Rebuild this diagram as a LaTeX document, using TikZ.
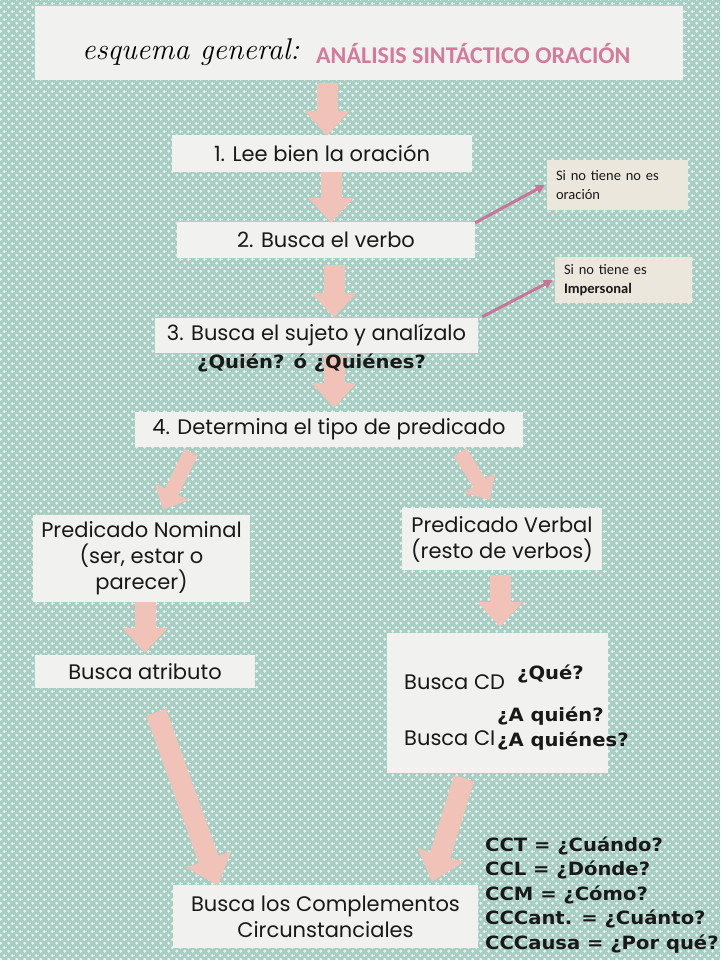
\documentclass[tikz,border=0pt]{standalone}
\usepackage{fontspec}
\usetikzlibrary{arrows.meta,patterns.meta,calc}
\newfontfamily\gothic{Poppins}
\newfontfamily\calib{Carlito}
\newfontfamily\verd{DejaVu Sans}[FakeStretch=1.07]
\definecolor{bgteal}{RGB}{168,205,195}
\definecolor{bgdot}{RGB}{228,242,237}
\definecolor{boxfill}{RGB}{241,241,239}
\definecolor{notefill}{RGB}{236,231,221}
\definecolor{blkcol}{RGB}{240,194,184}
\definecolor{titlepink}{RGB}{212,122,154}
\definecolor{thinpink}{RGB}{200,118,152}
\definecolor{txt}{RGB}{25,25,25}
\tikzdeclarepattern{
  name=bgdots, type=colored,
  bottom left={(0pt,0pt)}, top right={(8pt,8pt)}, tile size={(8pt,8pt)},
  code={\fill[bgdot] (2pt,2pt) circle (1.8pt); \fill[bgdot] (6pt,6pt) circle (1.8pt);}
}
\begin{document}
\begin{tikzpicture}[x=1pt,y=-1pt,
  box/.style={fill=boxfill, inner sep=0pt, text=txt, align=center,
    font=\gothic\fontsize{21}{26}\selectfont},
  note/.style={fill=notefill, inner ysep=0pt, inner xsep=9pt, align=left, text=txt,
    font=\calib\fontsize{14.5}{19}\selectfont},
  gtext/.style={inner sep=0pt, text=txt, font=\gothic\fontsize{21}{26}\selectfont},
  vtext/.style={inner sep=0pt, text=txt, font=\verd\bfseries\fontsize{18.3}{24}\selectfont},
  blk/.style={draw=blkcol, line width=21pt, -{Triangle[width=44pt,length=25pt]}},
  blks/.style={draw=blkcol, line width=15pt, -{Triangle[width=36pt,length=20pt]}},
  blkb/.style={draw=blkcol, line width=21pt, -{Triangle[width=46pt,length=28pt]}},
  thinarr/.style={draw=thinpink, line width=3pt, -{Triangle[width=9pt,length=9pt]}}
]
\useasboundingbox (0,0) rectangle (720,960);
\fill[bgteal] (0,0) rectangle (720,960);
\fill[pattern=bgdots] (0,0) rectangle (720,960);

% header
\node[fill=boxfill, minimum width=648, minimum height=74, inner sep=0pt] (h) at (359,43) {};
\node[anchor=base west, inner sep=0pt, text=black, font=\itshape\fontsize{30}{30}\selectfont] (hs) at (82,60) {esquema general:};
\node[anchor=base west, inner sep=0pt, text=titlepink, font=\calib\bfseries\fontsize{24}{26}\selectfont] (ht) at (316,64) {ANÁLISIS SINTÁCTICO ORACIÓN};

% main boxes
\node[box, minimum width=300, minimum height=37] (b1) at (322,153.5) {1. Lee bien la oración};
\node[box, minimum width=298, minimum height=36] (b2) at (326,240) {2. Busca el verbo};
\node[box, minimum width=323, minimum height=35] (b3) at (316.5,335.5) {3. Busca el sujeto y analízalo};
\node[box, minimum width=388, minimum height=35] (b4) at (329,429.5) {4. Determina el tipo de predicado};
\node[box, minimum width=217, minimum height=87] (pn) at (141.5,558.5) {Predicado Nominal\\(ser, estar o\\parecer)};
\node[box, minimum width=200, minimum height=62] (pv) at (502,539) {Predicado Verbal\\(resto de verbos)};
\node[box, minimum width=220, minimum height=33] (at) at (145,671.5) {Busca atributo};
\node[box, minimum width=221, minimum height=140] (cd) at (497.5,703) {};
\node[box, minimum width=305, minimum height=63] (cc) at (325.5,916.5) {Busca los Complementos\\Circunstanciales};

% notes
\node[note, minimum width=141, minimum height=50, text width=123] (n1) at (617.5,185) {Si no tiene no es\\oración};
\node[note, minimum width=137, minimum height=46, text width=119] (n2) at (623.5,280) {Si no tiene es\\\textbf{Impersonal}};

% block arrows
\draw[blk] ($(h.south -| b1.north)+(5,3)$) -- ($(b1.north)+(5,1)$);
\draw[blk] ($(b1.south)+(9,0)$) -- ($(b2.north)+(5,1)$);
\draw[blk] ($(b2.south)+(8,7)$) -- ($(b3.north)+(17.5,0)$);
\draw[blk] ($(b3.south)+(17.5,2)$) -- ($(b4.north)+(5,-4)$);
\draw[blks] ($(b4.south)+(-138,5)$) -- ($(pn.north)+(21.5,-5)$);
\draw[blks] ($(b4.south)+(131,5)$) -- ($(pv.north)+(-12,-8)$);
\draw[blk] ($(pn.south)+(3.5,0)$) -- ($(at.north)+(0,-2)$);
\draw[blk] ($(pv.south)+(-2,5)$) -- ($(cd.north)+(2.5,-6)$);
\draw[blkb] ($(at.south)+(11,24)$) -- ($(cc.north)+(-107.5,1)$);
\draw[blkb] ($(cd.south)+(-33.5,5)$) -- ($(cc.north)+(106.5,-3)$);

% thin arrows to notes
\draw[thinarr] ($(b2.north east)+(0,1)$) -- ($(n1.west)+(-2,0)$);
\draw[thinarr] ($(b3.north east)+(4,-1)$) -- ($(n2.west)+(-2,0)$);

% question text
\node[vtext, anchor=base west] (q) at (197,368) {¿Quién? ó ¿Quiénes?};
\node[gtext, anchor=base west] (cdt) at (404,689) {Busca CD};
\node[gtext, anchor=base west] (cit) at (404,745) {Busca CI};
\node[vtext, anchor=base west] (qq) at (517,679) {¿Qué?};
\node[vtext, anchor=base west] (qa1) at (497,721) {¿A quién?};
\node[vtext, anchor=base west] (qa2) at (497,746) {¿A quiénes?};

% CC list
\node[vtext, anchor=base west] (c1) at (485,851) {CCT = ¿Cuándo?};
\node[vtext, anchor=base west] (c2) at (485,875.5) {CCL = ¿Dónde?};
\node[vtext, anchor=base west] (c3) at (485,900) {CCM = ¿Cómo?};
\node[vtext, anchor=base west] (c4) at (485,924.5) {CCCant. = ¿Cuánto?};
\node[vtext, anchor=base west] (c5) at (485,949) {CCCausa = ¿Por qué?};
\end{tikzpicture}
\end{document}
